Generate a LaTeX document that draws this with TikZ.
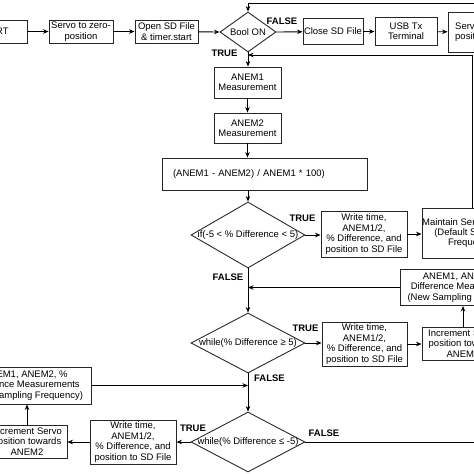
\documentclass[tikz,border=0pt]{standalone}
\usepackage{fontspec}
\setmainfont{Liberation Sans}
\usepackage{tikz}
\usetikzlibrary{shapes.geometric}
\usetikzlibrary{arrows.meta}
\usetikzlibrary{positioning}
\newcommand{\flowfont}{\fontsize{5.4}{5.9}\selectfont}
\tikzset{
	box/.style={draw=black!85,rectangle,align=center,inner sep=0pt,font=\flowfont},
	dia/.style={draw=black!85,diamond,inner sep=0pt},
	diatext/.style={font=\flowfont,inner sep=0pt},
	answer/.style={font=\flowfont\bfseries,inner sep=0pt}
}
\begin{document}
\begin{tikzpicture}[x=0.02cm,y=-0.02cm,line width=0.5pt,every path/.style={>={Stealth[length=0.11cm,width=0.09cm]}}]
	\useasboundingbox (0,0) rectangle (474,474);
	\clip (0,0) rectangle (474,474);

	% draw top row
	\node (start) at (-6.5,31.5) [box,minimum width=1.34cm,minimum height=0.46cm] {START};
	\node (servo1) at (81,31.5) [box,minimum width=1.28cm,minimum height=0.46cm] {Servo to zero-\\position};
	\node (opensd) at (166.5,31.5) [box,minimum width=1.26cm,minimum height=0.46cm] {Open SD File\\\& timer.start};
	\node (bool) at (248,32) [dia,minimum width=1.12cm,minimum height=0.8cm] {};
	\node at (bool) [diatext] {Bool ON};
	\node (closesd) at (333,31.5) [box,minimum width=1.2cm,minimum height=0.52cm] {Close SD File};
	\node (usb) at (406,31.5) [box,minimum width=1.24cm,minimum height=0.56cm] {USB Tx\\Terminal};
	\node (servo2) at (485,32) [box,align=left,minimum width=1.48cm,minimum height=0.8cm] {Servo to zero-\\position};

	% draw measurement column
	\node (anem1) at (247.5,82.5) [box,minimum width=1.34cm,minimum height=0.62cm] {ANEM1\\Measurement};
	\node (anem2) at (247.5,128) [box,minimum width=1.34cm,minimum height=0.6cm] {ANEM2\\Measurement};
	\node (formula) at (264.5,174) [box,align=left,text width=3.66cm,inner xsep=0.22cm,minimum height=0.64cm] {(ANEM1 - ANEM2) / ANEM1 * 100)};

	% draw if branch
	\node (ifd) at (248,235) [dia,minimum width=2.28cm,minimum height=1.32cm] {};
	\node at (ifd) [diatext] {if(-5 < \% Difference < 5)};
	\node (write1) at (364,234) [box,minimum width=1.72cm,minimum height=0.92cm] {Write time,\\ANEM1/2,\\\% Difference, and\\position to SD File};
	\node (maintain) at (472,233) [box,minimum width=2cm,minimum height=1cm] {Maintain Servo Position\\(Default Sampling\\Frequency)};

	% draw first while branch
	\node (nsright) at (465,287.5) [box,minimum width=2.6cm,minimum height=0.72cm] {ANEM1, ANEM2, \%\\Difference Measurements\\(New Sampling Frequency)};
	\node (whd1) at (248,343) [dia,minimum width=2.28cm,minimum height=1.2cm] {};
	\node at (whd1) [diatext] {while(\% Difference ≥ 5)};
	\node (write2) at (364.5,344) [box,minimum width=1.7cm,minimum height=0.88cm] {Write time,\\ANEM1/2,\\\% Difference, and\\position to SD File};
	\node (incrright) at (463,343.5) [box,minimum width=1.64cm,minimum height=0.66cm] {Increment Servo\\position towards\\ANEM1};

	% draw second while branch
	\node (nsleft) at (25.5,385.5) [box,minimum width=2.62cm,minimum height=0.74cm] {ANEM1, ANEM2, \%\\Difference Measurements\\(New Sampling Frequency)};
	\node (whd2) at (248,442) [dia,minimum width=2.28cm,minimum height=1.2cm] {};
	\node at (whd2) [diatext] {while(\% Difference ≤ -5)};
	\node (write3) at (133,442) [box,minimum width=1.72cm,minimum height=0.88cm] {Write time,\\ANEM1/2,\\\% Difference, and\\position to SD File};
	\node (incrleft) at (27,441.5) [box,minimum width=1.6cm,minimum height=0.66cm] {Increment Servo\\position towards\\ANEM2};

	% TRUE / FALSE labels
	\node at (224.5,53) [answer] {TRUE};
	\node at (282,21) [answer] {FALSE};
	\node at (302.5,218.5) [answer] {TRUE};
	\node at (228,277) [answer] {FALSE};
	\node at (305.5,328) [answer] {TRUE};
	\node at (269.5,378) [answer] {FALSE};
	\node at (193,428) [answer] {TRUE};
	\node at (324,433) [answer] {FALSE};

	% loose ends leaving the picture
	\coordinate (topin) at (480,3);
	\coordinate (rightout) at (480,442);
	\coordinate (backin) at (248,55);

	% draw connectors of top row
	\draw[->] (start) to (servo1);
	\draw[->] (servo1) to (opensd);
	\draw[->] (opensd) to (bool.west);
	\draw[->] (bool.east) to (closesd);
	\draw[->] (closesd) to (usb);
	\draw[->] (usb) to (servo2);
	\draw[->] (topin) -| (bool.north);

	% draw connectors of measurement column
	\draw[->] (bool.south) to (anem1.north -| bool.south);
	\draw[->] (maintain.north) |- (backin);
	\draw[->] (anem1) to (anem2);
	\draw[->] (anem2.south) to (anem2.south |- formula.north);
	\draw[->] (ifd.north |- formula.south) to (ifd.north);

	% draw connectors of branches
	\draw[->] (ifd.east) to (write1.west |- ifd.east);
	\draw[->] (write1.east) to (maintain.west |- write1.east);
	\draw[->] (ifd.south) to (whd1.north);
	\draw[->] (nsright.west) to (nsright.west -| ifd.south);
	\draw[->] (whd1.east) to (write2.west |- whd1.east);
	\draw[->] (write2.east) to (incrright.west |- write2.east);
	\draw[->] (incrright.north) to (incrright.north |- nsright.south);
	\draw[->] (whd1.south) to (whd2.north);
	\draw[->] (nsleft.east) to (nsleft.east -| whd1.south);
	\draw[->] (whd2.west) to (write3.east |- whd2.west);
	\draw[->] (write3.west) to (incrleft.east |- write3.west);
	\draw[->] (incrleft.north) to (incrleft.north |- nsleft.south);
	\draw (whd2.east) to (rightout);
\end{tikzpicture}
\end{document}
